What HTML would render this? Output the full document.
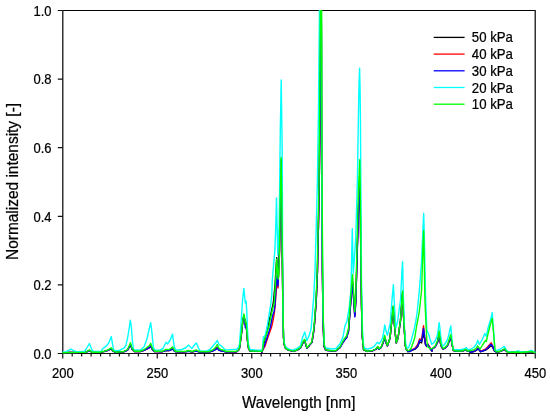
<!DOCTYPE html>
<html><head><meta charset="utf-8"><style>html,body{margin:0;padding:0;background:#fff;width:550px;height:416px;overflow:hidden}svg{display:block}</style></head>
<body><svg width="550" height="416" viewBox="0 0 550 416">
<rect width="550" height="416" fill="#fff"/>
<rect x="62" y="10" width="474" height="1" fill="#000"/><rect x="62" y="353" width="474" height="1" fill="#111"/><rect x="62" y="10" width="1.5" height="344" fill="#333"/><rect x="534.5" y="10" width="1.5" height="344" fill="#333"/>
<path d="M62.75 353.5v5 M72.20 353.5v3 M81.65 353.5v3 M91.10 353.5v3 M100.55 353.5v3 M110.00 353.5v3 M119.45 353.5v3 M128.90 353.5v3 M138.35 353.5v3 M147.80 353.5v3 M157.25 353.5v5 M166.70 353.5v3 M176.15 353.5v3 M185.60 353.5v3 M195.05 353.5v3 M204.50 353.5v3 M213.95 353.5v3 M223.40 353.5v3 M232.85 353.5v3 M242.30 353.5v3 M251.75 353.5v5 M261.20 353.5v3 M270.65 353.5v3 M280.10 353.5v3 M289.55 353.5v3 M299.00 353.5v3 M308.45 353.5v3 M317.90 353.5v3 M327.35 353.5v3 M336.80 353.5v3 M346.25 353.5v5 M355.70 353.5v3 M365.15 353.5v3 M374.60 353.5v3 M384.05 353.5v3 M393.50 353.5v3 M402.95 353.5v3 M412.40 353.5v3 M421.85 353.5v3 M431.30 353.5v3 M440.75 353.5v5 M450.20 353.5v3 M459.65 353.5v3 M469.10 353.5v3 M478.55 353.5v3 M488.00 353.5v3 M497.45 353.5v3 M506.90 353.5v3 M516.35 353.5v3 M525.80 353.5v3 M535.25 353.5v5 M57.75 353.50h5.0 M57.75 284.90h5.0 M57.75 216.30h5.0 M57.75 147.70h5.0 M57.75 79.10h5.0 M57.75 10.50h5.0" stroke="#111" stroke-width="1.2" fill="none"/>
<g font-family="'Liberation Sans', Arial, sans-serif" font-size="13" fill="#000" stroke="#000" stroke-width="0.22"><text transform="translate(51.6,358.70) scale(1,1.09)" text-anchor="end">0.0</text><text transform="translate(51.6,290.10) scale(1,1.09)" text-anchor="end">0.2</text><text transform="translate(51.6,221.50) scale(1,1.09)" text-anchor="end">0.4</text><text transform="translate(51.6,152.90) scale(1,1.09)" text-anchor="end">0.6</text><text transform="translate(51.6,84.30) scale(1,1.09)" text-anchor="end">0.8</text><text transform="translate(51.6,15.70) scale(1,1.09)" text-anchor="end">1.0</text><text transform="translate(62.95,377.9) scale(1,1.09)" text-anchor="middle">200</text><text transform="translate(157.45,377.9) scale(1,1.09)" text-anchor="middle">250</text><text transform="translate(251.95,377.9) scale(1,1.09)" text-anchor="middle">300</text><text transform="translate(346.45,377.9) scale(1,1.09)" text-anchor="middle">350</text><text transform="translate(440.95,377.9) scale(1,1.09)" text-anchor="middle">400</text><text transform="translate(535.45,377.9) scale(1,1.09)" text-anchor="middle">450</text><line x1="433.7" x2="464.6" y1="37.40" y2="37.40" stroke="#000000" stroke-width="1.3"/><text font-size="13.2" transform="translate(471.8,42.40) scale(1,1.04)">50 kPa</text><line x1="433.7" x2="464.6" y1="54.10" y2="54.10" stroke="#ff0000" stroke-width="1.3"/><text font-size="13.2" transform="translate(471.8,59.10) scale(1,1.04)">40 kPa</text><line x1="433.7" x2="464.6" y1="70.80" y2="70.80" stroke="#0000ff" stroke-width="1.3"/><text font-size="13.2" transform="translate(471.8,75.80) scale(1,1.04)">30 kPa</text><line x1="433.7" x2="464.6" y1="87.50" y2="87.50" stroke="#00ffff" stroke-width="1.3"/><text font-size="13.2" transform="translate(471.8,92.50) scale(1,1.04)">20 kPa</text><line x1="433.7" x2="464.6" y1="104.20" y2="104.20" stroke="#00ff00" stroke-width="1.3"/><text font-size="13.2" transform="translate(471.8,109.20) scale(1,1.04)">10 kPa</text></g>
<text transform="translate(298.7,407.7) scale(1,1.08)" text-anchor="middle" font-family="'Liberation Sans', Arial, sans-serif" font-size="15.2" fill="#000" stroke="#000" stroke-width="0.22">Wavelength [nm]</text>
<text transform="translate(18.1,181.45) rotate(-90) scale(1,1.1)" text-anchor="middle" font-family="'Liberation Sans', Arial, sans-serif" font-size="15.45" fill="#000" stroke="#000" stroke-width="0.22">Normalized intensity [-]</text>
<defs><clipPath id="pc"><rect x="62" y="10" width="474" height="344"/></clipPath></defs><g clip-path="url(#pc)"><polyline fill="none" stroke="#000000" stroke-width="1.4" stroke-linejoin="round" points="62.5,352.74 63.5,352.71 64.5,352.68 65.5,352.64 66.5,352.61 67.5,352.58 68.5,352.55 69.5,352.52 70.0,352.5 70.5,352.5 71.5,352.49 72.5,352.48 73.5,352.47 74.5,352.46 75.5,352.46 76.5,352.45 77.5,352.44 78.5,352.43 79.5,352.42 80.0,352.42 80.5,352.41 81.5,352.38 82.5,352.35 83.5,352.33 84.5,352.3 85.5,352.27 86.0,352.26 86.5,351.99 87.5,351.46 88.5,350.93 89.5,350.4 90.5,351.14 91.5,351.88 92.0,352.26 92.5,352.26 93.5,352.27 94.5,352.28 95.5,352.29 96.5,352.3 97.5,352.31 98.5,352.32 99.5,352.33 100.0,352.34 100.5,352.24 101.5,352.03 102.5,351.83 103.5,351.63 104.0,351.52 104.5,351.37 105.5,351.07 106.5,350.76 107.5,350.45 108.0,350.3 108.5,350.05 109.5,349.56 110.5,349.06 111.3,348.67 111.5,348.95 112.5,350.39 113.0,351.11 113.5,351.3 114.5,351.68 115.5,352.06 116.0,352.25 116.5,352.22 117.5,352.15 118.5,352.08 119.5,352.0 120.5,351.93 121.5,351.86 122.5,351.79 123.5,351.72 124.0,351.68 124.5,351.45 125.5,350.98 126.5,350.52 127.5,350.07 128.5,348.27 129.5,346.48 130.5,344.6 131.5,347.5 132.0,348.94 132.5,349.45 133.5,350.47 134.5,351.48 135.5,351.5 136.5,351.52 137.5,351.54 138.5,351.56 139.5,351.58 140.0,351.59 140.5,351.42 141.5,351.08 142.5,350.75 143.5,350.42 144.0,350.26 144.5,350.01 145.5,349.53 146.5,349.04 147.0,348.8 147.5,348.52 148.5,347.95 149.5,347.38 150.5,346.06 150.7,345.8 151.5,347.5 152.5,349.61 153.5,350.59 154.5,351.57 155.5,351.58 156.5,351.6 157.5,351.61 158.5,351.62 159.5,351.63 160.5,351.65 161.5,351.66 162.0,351.66 162.5,351.51 163.5,351.2 164.5,350.89 165.5,350.58 166.0,350.42 166.5,350.44 167.5,350.46 168.5,350.49 169.0,350.5 169.5,350.28 170.5,349.84 171.0,349.62 171.5,349.32 172.5,348.73 172.6,348.67 173.5,349.84 174.5,351.14 175.5,351.48 176.5,351.82 177.5,351.8 178.5,351.78 179.5,351.76 180.5,351.74 181.5,351.72 182.5,351.7 183.5,351.68 184.5,351.66 185.5,351.64 186.0,351.63 186.5,351.55 187.5,351.38 188.5,351.21 188.7,351.18 189.5,351.34 190.5,351.54 191.5,351.74 192.0,351.84 192.5,351.73 193.5,351.51 194.5,351.29 195.5,351.07 196.4,350.87 196.5,350.91 197.5,351.29 198.5,351.66 199.0,351.85 199.5,351.86 200.5,351.89 201.5,351.91 202.5,351.93 203.5,351.95 204.5,351.98 205.5,352.0 206.5,352.02 207.5,352.04 208.0,352.05 208.5,351.93 209.5,351.69 210.5,351.45 211.5,351.21 212.5,350.97 212.7,350.92 213.5,350.48 214.5,349.92 215.5,349.37 216.5,348.33 217.3,347.5 217.5,347.8 218.5,349.27 219.0,350.01 219.5,350.17 220.5,350.48 221.0,350.64 221.5,350.75 222.5,350.96 223.5,351.16 224.0,351.27 224.5,351.42 225.5,351.73 226.0,351.89 226.5,351.88 227.5,351.87 228.5,351.86 229.5,351.85 230.5,351.84 231.5,351.83 232.5,351.82 233.5,351.81 234.5,351.8 235.5,351.79 236.5,351.67 236.7,351.63 237.5,350.95 238.5,350.1 239.5,348.18 240.5,340.84 241.2,335.7 241.5,333.0 242.5,324.0 242.8,321.3 243.5,317.63 243.9,315.54 244.5,318.42 244.7,319.38 245.3,324.18 245.5,323.7 245.9,322.74 246.5,328.09 246.6,328.98 247.5,340.5 248.5,348.18 249.5,350.1 250.0,351.06 250.5,351.08 251.5,351.11 252.5,351.14 253.5,351.17 254.5,351.19 255.5,351.22 256.5,351.25 257.5,351.28 258.5,351.31 259.5,351.33 260.5,351.36 261.5,351.39 261.8,352.3 262.4,350 265,339 267.7,327 269.1,321 271.5,311 273.3,303 275,285 276.7,257.6 277.5,270 278.2,282 279.5,240 280.3,195 281.1,160 281.5,184.14 281.8,199.8 282.4,262.9 282.5,272.6 282.8,301.68 283.5,337.51 284.2,344.29 284.5,345.16 285.5,348.07 285.6,348.36 286.5,348.94 287.5,349.59 288.0,349.91 288.5,350.03 289.5,350.27 290.4,350.49 290.5,350.51 291.5,350.73 292.5,350.95 293.5,351.17 294.5,350.87 295.5,350.58 296.5,350.28 297.0,350.13 297.5,349.82 298.5,349.18 299.5,348.55 300.4,347.98 300.5,347.77 301.5,345.68 302.5,343.59 303.5,341.53 303.9,340.71 304.5,340.47 304.8,340.36 305.5,343.31 305.8,344.57 306.5,346.78 306.9,348.03 307.5,347.38 308.5,346.29 309.1,345.64 309.35,345.4 311.95,342.4 313.05,335.3 314.05,329.0 314.95,318.3 316.25,300.3 317.45,271.3 318.45,225.3 319.25,182.3 320.05,100.3 320.45,40.3 320.5,10.7 321.3,10.7 321.4,40.2 321.5,100.2 321.7,182.2 322.1,230.2 322.4,271.2 323.0,320.2 324.0,346.2 325.7,350.2 326.0,350.2 326.5,350.26 327.5,350.39 328.5,350.51 329.5,350.63 330.5,350.75 331.5,350.88 332.0,350.94 332.5,350.91 333.5,350.84 334.5,350.77 335.5,350.7 336.0,350.67 336.5,350.27 337.5,349.47 338.5,348.66 339.5,347.87 340.0,347.47 340.5,346.55 341.5,344.72 342.5,342.9 343.0,341.99 343.5,341.28 344.5,339.87 345.0,339.16 345.5,338.58 346.5,337.43 347.5,334.11 348.5,330.78 349.5,317.47 350.0,310.82 350.5,304.2 351.5,290.97 352.5,282.22 352.6,281.34 353.5,295.44 353.8,300.13 354.5,310.85 354.8,315.45 355.5,304.75 355.8,300.17 356.5,275.16 357.2,250.17 357.5,239.69 358.5,204.76 359.5,181.87 359.7,177.29 360.4,213.95 360.5,223.04 361.0,268.48 361.5,304.82 362.3,336.61 362.5,338.64 363.5,348.77 363.6,349.78 364.5,350.19 365.5,350.64 366.5,351.09 367.2,351.41 367.5,351.37 368.5,351.23 369.5,351.08 370.5,350.94 371.5,350.8 372.5,350.66 372.9,350.6 373.5,350.31 374.5,349.82 375.5,349.33 376.4,348.89 376.5,348.73 377.5,347.21 377.7,346.9 378.5,348.35 379.0,349.25 379.5,348.8 380.5,347.9 381.2,347.27 381.5,346.52 382.5,344.02 383.4,341.78 383.5,341.42 384.5,337.82 384.7,337.1 385.5,340.28 386.2,342.99 386.5,343.69 387.4,345.84 387.5,345.56 388.5,342.61 389.5,339.68 390.0,338.29 390.5,333.39 391.5,323.59 392.0,318.69 392.5,313.79 393.2,306.93 393.5,311.23 394.5,325.55 395.5,335.75 396.2,342.9 396.5,342.13 397.5,339.57 398.0,338.29 398.5,334.76 399.5,327.71 400.5,320.65 401.5,306.28 402.0,299.09 402.5,293.29 402.6,292.13 403.5,315.75 404.5,332.36 405.3,345.64 405.5,346.34 406.5,349.85 407.5,350.57 407.6,351.6 410,351.5 412.4,350 415.3,349 417.8,346.5 419.6,342 421.5,343 423.5,333 424.6,339 425.4,344.5 426.8,346.5 428,345 429.5,348 432.1,351.2 432.2,348.98 432.5,348.76 433.5,348.03 434.5,347.31 435.2,346.8 435.5,346.18 436.5,344.13 437.5,342.08 437.8,341.47 438.5,337.28 439.1,333.7 439.5,336.56 440.4,342.98 440.5,343.33 441.5,346.83 442.5,348.29 443.0,349.01 443.5,348.8 444.5,348.37 445.0,348.15 445.5,347.7 446.5,346.8 447.3,346.08 447.5,345.56 448.5,342.96 449.0,341.67 449.5,340.21 450.3,337.87 450.5,337.56 450.8,337.1 451.5,341.3 452.0,344.29 452.5,346.55 453.4,350.6 453.5,350.62 454.5,350.86 455.5,351.09 456.0,351.21 456.5,351.21 457.5,351.21 458.5,351.21 459.5,351.21 460.5,351.21 461.5,351.21 462.0,351.22 462.5,351.02 463.5,350.63 464.5,350.24 465.5,349.85 466.5,350.54 467.5,351.22 468.5,351.09 469.5,350.95 470,352.2 473.8,351.6 476.5,350.3 478.1,348.6 480.5,351.8 482.5,351.2 485.5,350.1 488,348.5 491.1,345.5 492.5,347 494.5,351.2 497,352.3 497.5,351.98 498.5,351.78 499.5,351.57 500.5,351.36 501.0,351.26 501.5,350.99 502.5,350.46 503.5,349.93 504.4,349.45 504.5,349.54 505.5,350.4 506.5,351.27 507.5,352.03 508.0,352.42 508.5,352.4 509.5,352.37 510.5,352.34 511.5,352.3 512.5,352.27 513.5,352.24 514.5,352.21 515.5,352.17 516.5,352.14 517.5,352.11 518.0,352.09 518.5,352.16 519.5,352.3 520.5,352.43 521.0,352.5 521.5,352.46 522.5,352.39 523.5,352.31 524.5,352.23 525.5,352.16 526.5,352.08 527.5,352.01 528.5,351.93 529.5,351.86 530.5,351.78 531.5,351.7 531.6,351.7 532.5,351.94 533.5,352.21 534.5,352.47 535.5,352.74"/><polyline fill="none" stroke="#ff0000" stroke-width="1.4" stroke-linejoin="round" points="62.5,352.73 63.5,352.7 64.5,352.67 65.5,352.64 66.5,352.61 67.5,352.58 68.5,352.55 69.5,352.52 70.0,352.5 70.5,352.5 71.5,352.49 72.5,352.48 73.5,352.47 74.5,352.46 75.5,352.46 76.5,352.45 77.5,352.44 78.5,352.43 79.5,352.43 80.0,352.42 80.5,352.41 81.5,352.38 82.5,352.36 83.5,352.33 84.5,352.3 85.5,352.28 86.0,352.26 86.5,352.0 87.5,351.49 88.5,350.97 89.5,350.45 90.5,351.17 91.5,351.9 92.0,352.26 92.5,352.27 93.5,352.28 94.5,352.29 95.5,352.3 96.5,352.31 97.5,352.32 98.5,352.33 99.5,352.34 100.0,352.34 100.5,352.24 101.5,352.04 102.5,351.85 103.5,351.65 104.0,351.55 104.5,351.4 105.5,351.1 106.5,350.8 107.5,350.5 108.0,350.35 108.5,350.11 109.5,349.63 110.5,349.15 111.3,348.76 111.5,349.04 112.5,350.44 113.0,351.15 113.5,351.33 114.5,351.7 115.5,352.07 116.0,352.26 116.5,352.23 117.5,352.16 118.5,352.09 119.5,352.02 120.5,351.95 121.5,351.88 122.5,351.81 123.5,351.74 124.0,351.7 124.5,351.47 125.5,351.02 126.5,350.57 127.5,350.13 128.5,348.37 129.5,346.64 130.5,344.8 131.5,347.62 132.0,349.03 132.5,349.53 133.5,350.52 134.5,351.51 135.5,351.53 136.5,351.55 137.5,351.57 138.5,351.58 139.5,351.6 140.0,351.61 140.5,351.45 141.5,351.12 142.5,350.8 143.5,350.48 144.0,350.32 144.5,350.08 145.5,349.61 146.5,349.14 147.0,348.9 147.5,348.63 148.5,348.07 149.5,347.52 150.5,346.24 150.7,345.99 151.5,347.64 152.5,349.69 153.5,350.65 154.5,351.59 155.5,351.61 156.5,351.62 157.5,351.63 158.5,351.65 159.5,351.66 160.5,351.67 161.5,351.68 162.0,351.69 162.5,351.54 163.5,351.23 164.5,350.93 165.5,350.63 166.0,350.48 166.5,350.5 167.5,350.52 168.5,350.55 169.0,350.56 169.5,350.35 170.5,349.92 171.0,349.7 171.5,349.42 172.5,348.84 172.6,348.78 173.5,349.92 174.5,351.18 175.5,351.51 176.5,351.84 177.5,351.82 178.5,351.8 179.5,351.78 180.5,351.76 181.5,351.75 182.5,351.73 183.5,351.71 184.5,351.69 185.5,351.67 186.0,351.66 186.5,351.58 187.5,351.41 188.5,351.25 188.7,351.22 189.5,351.37 190.5,351.57 191.5,351.76 192.0,351.86 192.5,351.75 193.5,351.54 194.5,351.32 195.5,351.11 196.4,350.92 196.5,350.96 197.5,351.32 198.5,351.69 199.0,351.87 199.5,351.88 200.5,351.9 201.5,351.93 202.5,351.95 203.5,351.97 204.5,351.99 205.5,352.01 206.5,352.04 207.5,352.06 208.0,352.07 208.5,351.95 209.5,351.72 210.5,351.48 211.5,351.25 212.5,351.02 212.7,350.97 213.5,350.54 214.5,350.0 215.5,349.47 216.5,348.46 217.3,347.66 217.5,347.95 218.5,349.38 219.0,350.09 219.5,350.24 220.5,350.55 221.0,350.7 221.5,350.8 222.5,351.01 223.5,351.21 224.0,351.31 224.5,351.46 225.5,351.76 226.0,351.91 226.5,351.9 227.5,351.89 228.5,351.88 229.5,351.87 230.5,351.86 231.5,351.85 232.5,351.84 233.5,351.83 234.5,351.83 235.5,351.82 236.5,351.7 236.7,351.65 237.5,350.98 238.5,350.12 239.5,348.22 240.5,340.96 241.2,335.88 241.5,333.2 242.5,324.3 242.8,321.62 243.5,318.0 243.9,315.92 244.5,318.78 244.7,319.73 245.3,324.48 245.5,324.0 245.9,323.05 246.5,328.34 246.6,329.22 247.5,340.62 248.5,348.22 249.5,350.12 250.0,351.08 250.5,351.09 251.5,351.12 252.5,351.15 253.5,351.18 254.5,351.2 255.5,351.23 256.5,351.26 257.5,351.28 258.5,351.31 259.5,351.34 260.5,351.36 261.5,351.39 261.8,352.3 262.4,351 265,346.2 268,337 271.6,327 273.5,318 274.2,314 275.2,305 276.6,285 277.3,280 278,288 279.7,250 280.4,200 281.1,165 281.5,185.44 281.8,201.0 282.4,263.63 282.5,273.25 282.8,302.1 283.5,337.64 284.2,344.36 284.5,345.23 285.5,348.11 285.6,348.4 286.5,348.97 287.5,349.62 288.0,349.94 288.5,350.06 289.5,350.3 290.4,350.51 290.5,350.54 291.5,350.75 292.5,350.97 293.5,351.18 294.5,350.89 295.5,350.6 296.5,350.31 297.0,350.17 297.5,349.86 298.5,349.23 299.5,348.61 300.4,348.05 300.5,347.85 301.5,345.79 302.5,343.74 303.5,341.72 303.9,340.92 304.5,340.68 304.8,340.57 305.5,343.47 305.8,344.72 306.5,346.88 306.9,348.11 307.5,347.47 308.5,346.41 309.1,345.77 309.35,345.4 311.95,342.4 313.05,335.3 314.05,329.0 314.95,318.3 316.25,300.3 317.45,271.3 318.45,225.3 319.25,182.3 320.05,100.3 320.45,40.3 320.5,10.7 321.3,10.7 321.4,40.2 321.5,100.2 321.7,182.2 322.1,230.2 322.4,271.2 323.0,320.2 324.0,346.2 325.7,350.2 326.0,350.25 326.5,350.31 327.5,350.43 328.5,350.55 329.5,350.67 330.5,350.79 331.5,350.91 332.0,350.97 332.5,350.94 333.5,350.87 334.5,350.81 335.5,350.74 336.0,350.71 336.5,350.31 337.5,349.53 338.5,348.75 339.5,347.97 340.0,347.58 340.5,346.68 341.5,344.89 342.5,343.11 343.0,342.22 343.5,341.52 344.5,340.14 345.0,339.45 345.5,338.89 346.5,337.76 347.5,334.51 348.5,331.26 349.5,318.24 350.0,311.74 350.5,305.26 351.5,292.32 352.5,283.76 352.6,282.9 353.5,296.69 353.8,301.28 354.5,311.77 354.8,316.26 355.5,305.8 355.8,301.32 356.5,276.86 357.2,252.42 357.5,242.17 358.5,208.01 359.5,185.62 359.7,181.15 360.4,217.0 360.5,225.89 361.0,270.33 361.5,305.87 362.3,336.96 362.5,338.94 363.5,348.85 363.6,349.84 364.5,350.24 365.5,350.68 366.5,351.13 367.2,351.44 367.5,351.39 368.5,351.26 369.5,351.12 370.5,350.98 371.5,350.84 372.5,350.7 372.9,350.64 373.5,350.36 374.5,349.88 375.5,349.4 376.4,348.97 376.5,348.82 377.5,347.33 377.7,347.03 378.5,348.44 379.0,349.32 379.5,348.88 380.5,348.0 381.2,347.39 381.5,346.65 382.5,344.21 383.4,342.02 383.5,341.67 384.5,338.15 384.7,337.44 385.5,340.55 386.2,343.19 386.5,343.85 387.4,345.92 387.5,345.63 388.5,342.64 389.5,339.68 390.0,338.29 390.5,333.39 391.5,323.59 392.0,318.69 392.5,313.79 393.2,306.93 393.5,311.23 394.5,325.55 395.5,335.75 396.2,342.9 396.5,342.13 397.5,339.57 398.0,338.29 398.5,334.76 399.5,327.71 400.5,320.65 401.5,306.28 402.0,299.09 402.5,293.29 402.6,292.13 403.5,315.75 404.5,332.36 405.3,345.64 405.5,346.34 406.5,349.85 407.5,350.57 407.6,351.2 410,351 412.4,349.5 415.3,348 417.8,344.5 419.6,339 421.7,339.5 423.5,325.6 424.6,336 425.4,343.5 426.8,345.5 428,344 429.5,347 432.1,350.8 432.2,348.98 432.5,348.76 433.5,348.03 434.5,347.31 435.2,346.8 435.5,346.18 436.5,344.13 437.5,342.08 437.8,341.47 438.5,337.28 439.1,333.7 439.5,336.56 440.4,342.98 440.5,343.33 441.5,346.83 442.5,348.29 443.0,349.01 443.5,348.8 444.5,348.37 445.0,348.15 445.5,347.7 446.5,346.8 447.3,346.08 447.5,345.56 448.5,342.96 449.0,341.67 449.5,340.21 450.3,337.87 450.5,337.56 450.8,337.1 451.5,341.3 452.0,344.29 452.5,346.55 453.4,350.6 453.5,350.62 454.5,350.86 455.5,351.09 456.0,351.21 456.5,351.21 457.5,351.21 458.5,351.21 459.5,351.21 460.5,351.21 461.5,351.21 462.0,351.22 462.5,351.02 463.5,350.63 464.5,350.24 465.5,349.85 466.5,350.54 467.5,351.22 468.5,351.09 469.5,350.95 470,352 473.8,351.3 476.5,349.8 478.1,348 480.5,351.2 482.5,350.5 485.5,349.2 488,346.5 491.3,342.8 492.5,345.5 494.5,350.8 497,352.2 497.5,351.98 498.5,351.78 499.5,351.57 500.5,351.36 501.0,351.26 501.5,350.99 502.5,350.46 503.5,349.93 504.4,349.45 504.5,349.54 505.5,350.4 506.5,351.27 507.5,352.03 508.0,352.42 508.5,352.4 509.5,352.37 510.5,352.34 511.5,352.3 512.5,352.27 513.5,352.24 514.5,352.21 515.5,352.17 516.5,352.14 517.5,352.11 518.0,352.09 518.5,352.16 519.5,352.3 520.5,352.43 521.0,352.5 521.5,352.46 522.5,352.39 523.5,352.31 524.5,352.23 525.5,352.16 526.5,352.08 527.5,352.01 528.5,351.93 529.5,351.86 530.5,351.78 531.5,351.7 531.6,351.7 532.5,351.94 533.5,352.21 534.5,352.47 535.5,352.74"/><polyline fill="none" stroke="#0000ff" stroke-width="1.4" stroke-linejoin="round" points="62.5,352.73 63.5,352.7 64.5,352.67 65.5,352.64 66.5,352.61 67.5,352.58 68.5,352.55 69.5,352.52 70.0,352.5 70.5,352.5 71.5,352.49 72.5,352.48 73.5,352.47 74.5,352.47 75.5,352.46 76.5,352.45 77.5,352.44 78.5,352.43 79.5,352.43 80.0,352.42 80.5,352.41 81.5,352.39 82.5,352.36 83.5,352.33 84.5,352.31 85.5,352.28 86.0,352.27 86.5,352.02 87.5,351.51 88.5,351.01 89.5,350.5 90.5,351.21 91.5,351.92 92.0,352.27 92.5,352.27 93.5,352.28 94.5,352.29 95.5,352.3 96.5,352.31 97.5,352.32 98.5,352.33 99.5,352.34 100.0,352.35 100.5,352.25 101.5,352.06 102.5,351.86 103.5,351.67 104.0,351.57 104.5,351.43 105.5,351.14 106.5,350.85 107.5,350.55 108.0,350.41 108.5,350.17 109.5,349.7 110.5,349.23 111.3,348.85 111.5,349.13 112.5,350.5 113.0,351.18 113.5,351.36 114.5,351.72 115.5,352.09 116.0,352.27 116.5,352.23 117.5,352.16 118.5,352.1 119.5,352.03 120.5,351.96 121.5,351.89 122.5,351.82 123.5,351.75 124.0,351.72 124.5,351.5 125.5,351.06 126.5,350.62 127.5,350.19 128.5,348.48 129.5,346.78 130.5,345.0 131.5,347.75 132.0,349.12 132.5,349.6 133.5,350.58 134.5,351.54 135.5,351.55 136.5,351.57 137.5,351.59 138.5,351.61 139.5,351.63 140.0,351.64 140.5,351.48 141.5,351.16 142.5,350.84 143.5,350.53 144.0,350.38 144.5,350.15 145.5,349.69 146.5,349.23 147.0,349.0 147.5,348.73 148.5,348.19 149.5,347.66 150.5,346.42 150.7,346.17 151.5,347.78 152.5,349.77 153.5,350.7 154.5,351.62 155.5,351.63 156.5,351.65 157.5,351.66 158.5,351.67 159.5,351.68 160.5,351.7 161.5,351.71 162.0,351.71 162.5,351.57 163.5,351.28 164.5,350.99 165.5,350.7 166.0,350.55 166.5,350.57 167.5,350.6 168.5,350.62 169.0,350.64 169.5,350.43 170.5,350.02 171.0,349.82 171.5,349.54 172.5,348.99 172.6,348.94 173.5,350.03 174.5,351.24 175.5,351.55 176.5,351.87 177.5,351.85 178.5,351.84 179.5,351.82 180.5,351.8 181.5,351.78 182.5,351.77 183.5,351.75 184.5,351.73 185.5,351.72 186.0,351.71 186.5,351.63 187.5,351.47 188.5,351.32 188.7,351.29 189.5,351.44 190.5,351.63 191.5,351.81 192.0,351.9 192.5,351.8 193.5,351.6 194.5,351.4 195.5,351.2 196.4,351.03 196.5,351.06 197.5,351.4 198.5,351.75 199.0,351.92 199.5,351.93 200.5,351.95 201.5,351.97 202.5,351.99 203.5,352.01 204.5,352.03 205.5,352.05 206.5,352.07 207.5,352.09 208.0,352.1 208.5,352.0 209.5,351.78 210.5,351.57 211.5,351.36 212.5,351.15 212.7,351.1 213.5,350.71 214.5,350.22 215.5,349.74 216.5,348.83 217.3,348.1 217.5,348.36 218.5,349.65 219.0,350.3 219.5,350.44 220.5,350.71 221.0,350.85 221.5,350.94 222.5,351.12 223.5,351.31 224.0,351.4 224.5,351.54 225.5,351.81 226.0,351.95 226.5,351.94 227.5,351.93 228.5,351.92 229.5,351.91 230.5,351.9 231.5,351.89 232.5,351.88 233.5,351.87 234.5,351.86 235.5,351.85 236.5,351.73 236.7,351.68 237.5,351.0 238.5,350.15 239.5,348.25 240.5,340.98 241.2,335.86 241.5,333.17 242.5,324.14 242.8,321.42 243.5,317.68 243.9,315.54 244.5,320.25 244.7,321.75 245.3,327.72 245.5,326.9 245.9,325.22 246.5,329.61 246.6,330.45 247.5,341.25 248.5,348.45 249.5,350.25 250.0,351.15 250.5,351.17 251.5,351.2 252.5,351.22 253.5,351.24 254.5,351.25 255.5,351.27 256.5,351.29 257.5,351.31 258.5,351.33 259.5,351.35 260.5,351.37 261.5,351.4 261.8,352.3 262.4,350.5 265,344 267.5,336 270.4,327 272.5,316 274.2,311 275,305 276.5,280 277.3,275 278,286 279.5,250 280.3,200 281.1,165 281.5,186.74 281.8,202.2 282.4,264.35 282.5,273.9 282.8,302.52 283.5,337.77 284.2,344.44 284.5,345.29 285.5,348.15 285.6,348.43 286.5,349.01 287.5,349.65 288.0,349.96 288.5,350.08 289.5,350.32 290.4,350.54 290.5,350.56 291.5,350.77 292.5,350.99 293.5,351.2 294.5,350.91 295.5,350.63 296.5,350.34 297.0,350.2 297.5,349.89 298.5,349.28 299.5,348.67 300.4,348.13 300.5,347.92 301.5,345.9 302.5,343.89 303.5,341.91 303.9,341.12 304.5,340.9 304.8,340.78 305.5,343.64 305.8,344.86 306.5,346.99 306.9,348.2 307.5,347.57 308.5,346.53 309.1,345.9 309.35,345.4 311.95,342.4 313.05,335.3 314.05,329.0 314.95,318.3 316.25,300.3 317.45,271.3 318.45,225.3 319.25,182.3 320.05,100.3 320.45,40.3 320.5,10.7 321.3,10.7 321.4,40.2 321.5,100.2 321.7,182.2 322.1,230.2 322.4,271.2 323.0,320.2 324.0,346.2 325.7,350.2 326.0,350.3 326.5,350.36 327.5,350.48 328.5,350.59 329.5,350.71 330.5,350.83 331.5,350.95 332.0,351.01 332.5,350.97 333.5,350.91 334.5,350.84 335.5,350.78 336.0,350.74 336.5,350.36 337.5,349.59 338.5,348.82 339.5,348.06 340.0,347.67 340.5,346.8 341.5,345.04 342.5,343.29 343.0,342.41 343.5,341.73 344.5,340.38 345.0,339.7 345.5,339.14 346.5,338.04 347.5,334.84 348.5,331.65 349.5,318.86 350.0,312.47 350.5,306.11 351.5,293.39 352.5,284.96 352.6,284.12 353.5,297.66 353.8,302.17 354.5,312.47 354.8,316.88 355.5,306.59 355.8,302.19 356.5,278.13 357.2,254.08 357.5,244.0 358.5,210.38 359.5,188.33 359.7,183.92 360.4,219.17 360.5,227.92 361.0,271.64 361.5,306.61 362.3,337.21 362.5,339.16 363.5,348.9 363.6,349.88 364.5,350.27 365.5,350.71 366.5,351.15 367.2,351.45 367.5,351.41 368.5,351.27 369.5,351.14 370.5,351.0 371.5,350.86 372.5,350.72 372.9,350.67 373.5,350.38 374.5,349.91 375.5,349.44 376.4,349.01 376.5,348.87 377.5,347.39 377.7,347.1 378.5,348.49 379.0,349.36 379.5,348.93 380.5,348.06 381.2,347.45 381.5,346.73 382.5,344.31 383.4,342.14 383.5,341.79 384.5,338.31 384.7,337.62 385.5,340.68 386.2,343.29 386.5,343.93 387.4,345.96 387.5,345.67 388.5,342.66 389.5,339.68 390.0,338.29 390.5,333.39 391.5,323.59 392.0,318.69 392.5,313.79 393.2,306.93 393.5,311.23 394.5,325.55 395.5,335.75 396.2,342.9 396.5,342.13 397.5,339.57 398.0,338.29 398.5,334.76 399.5,327.71 400.5,320.65 401.5,306.28 402.0,299.09 402.5,293.29 402.6,292.13 403.5,315.75 404.5,332.36 405.3,345.64 405.5,346.34 406.5,349.85 407.5,350.57 407.6,351.5 410,351.4 412.4,349.8 415.3,348.7 417.8,345.9 419.6,340.5 421.7,341 423.5,328.5 424.6,337 425.4,344 426.8,346 428,344.5 429.5,347.5 432.1,351 432.2,348.98 432.5,348.76 433.5,348.03 434.5,347.31 435.2,346.8 435.5,346.18 436.5,344.13 437.5,342.08 437.8,341.47 438.5,337.28 439.1,333.7 439.5,336.56 440.4,342.98 440.5,343.33 441.5,346.83 442.5,348.29 443.0,349.01 443.5,348.8 444.5,348.37 445.0,348.15 445.5,347.7 446.5,346.8 447.3,346.08 447.5,345.56 448.5,342.96 449.0,341.67 449.5,340.21 450.3,337.87 450.5,337.56 450.8,337.1 451.5,341.3 452.0,344.29 452.5,346.55 453.4,350.6 453.5,350.62 454.5,350.86 455.5,351.09 456.0,351.21 456.5,351.21 457.5,351.21 458.5,351.21 459.5,351.21 460.5,351.21 461.5,351.21 462.0,351.22 462.5,351.02 463.5,350.63 464.5,350.24 465.5,349.85 466.5,350.54 467.5,351.22 468.5,351.09 469.5,350.95 470,352.2 473.8,351.5 476.5,350 478.1,348.3 480.5,351.6 482.5,351 485.5,349.8 488,347.8 490.9,344.2 492.5,346 494.5,351 497,352.3 497.5,351.98 498.5,351.78 499.5,351.57 500.5,351.36 501.0,351.26 501.5,350.99 502.5,350.46 503.5,349.93 504.4,349.45 504.5,349.54 505.5,350.4 506.5,351.27 507.5,352.03 508.0,352.42 508.5,352.4 509.5,352.37 510.5,352.34 511.5,352.3 512.5,352.27 513.5,352.24 514.5,352.21 515.5,352.17 516.5,352.14 517.5,352.11 518.0,352.09 518.5,352.16 519.5,352.3 520.5,352.43 521.0,352.5 521.5,352.46 522.5,352.39 523.5,352.31 524.5,352.23 525.5,352.16 526.5,352.08 527.5,352.01 528.5,351.93 529.5,351.86 530.5,351.78 531.5,351.7 531.6,351.7 532.5,351.94 533.5,352.21 534.5,352.47 535.5,352.74"/><polyline fill="none" stroke="#00ffff" stroke-width="1.4" stroke-linejoin="round" points="62.5,351.9 66,351.6 69,350.2 71,349.2 73.5,350.6 76,351.5 80,351.6 84.5,351.3 86.5,348.5 89.4,343.5 91,347.5 92.5,351 95,351.5 101.4,351.2 102.5,348.8 104.5,347.5 106.9,345.4 109,342.5 111.3,336.6 113.4,349.2 115,350.8 118,350.5 120,350.2 124.5,347.7 126,345 127.8,337 129.5,326 130.3,320.2 131.2,326 132.2,338 133.3,348.5 134.5,350.2 137,350 141,349.8 144.2,346.6 146.9,339 148.5,332 150.7,322.6 151.8,331.4 153.4,347.7 155,350.2 160,350 163,348.5 166,342.3 167.6,343.9 170.5,339.5 172.5,334.1 174.2,346.6 175.8,350 178,350 182,349.5 186,347.5 188.7,345.1 191.8,348.6 194.5,345 196.4,342.9 198.5,348 200.2,351.3 207,351 210,349.5 212.7,346.2 215.5,343 217.3,340.5 219,344.5 220.9,345.6 223,347.8 225.8,350 230,349.6 236.7,349.2 238.5,347.5 239.5,344 240.9,325.3 242.6,299.3 243.9,288.4 244.6,296 245.3,303 246.1,301 246.8,312 247.5,330 248.3,344 250,349.5 255,350 261.8,350.2 262.4,349.5 263.3,337 265,335.8 267.1,327 269,315 270.9,303 271.8,295 272.3,280 273,272 274.9,250 275.8,225 276.5,198 277.2,230 277.8,255 279.2,225 280.3,130 281.2,80 282.2,150 282.8,300 283.5,335 284.2,342.5 285.5,346.5 287.5,348.5 290.4,349.6 292.7,350.2 296,349 300.4,346 302.6,337.3 304.8,332.1 306.9,340.8 309.1,335.6 310.5,331 311.2,328 312.3,314.4 313.8,296 315,271 316.3,225 317.4,182 318.5,110 319.1,45 319.5,10.2 321.3,10.2 321.5,45 321.6,100 321.9,182 322.6,271 323.3,320 324.4,345 326,348 332,349 336,348.5 340,343.8 343,337 345.1,325.3 346.8,322 349.3,306.8 351,290 351.8,250 352.3,228.8 353.3,273 354.2,262 355.8,236 357.4,180 358.4,116 359.1,80 359.6,68.2 360.1,90 360.4,116 360.8,180 361.5,280 362.5,330 363.6,346 364.6,348 367.2,349.1 370.7,348.3 374.2,346.3 377.3,342.4 379,343.7 380.8,341.5 382.5,338 383.6,333 384.7,325 385.8,330 387.4,335.4 390.2,323.3 392,300 393.4,284.6 394.5,306 395.8,328 397.5,322 400.5,300 402,270 402.6,261.7 403.5,300 404.6,330 405.8,344 407,348 408.5,347.8 411.2,340.5 414.2,329.3 415.9,320.7 417.2,312 419.4,290 421.5,262 423,228 423.7,213.5 424.5,245 425.5,295 426.8,330 428.75,334.2 430,339 431.7,344.2 433.5,343 435.2,340.8 436.8,337 437.8,333 438.6,327 439.1,322.6 439.8,327 440.4,333 441.2,340 442.1,345.1 443,346 445,344 447.3,339.9 448.8,335 449.9,329.5 450.8,326 451.8,337 452.9,348.5 455,349.8 460,349.8 464,349 466.3,347.7 468,349.5 470,349.5 473.8,347.5 476.5,344 477.6,340.4 479.4,344.4 482.5,339 484.8,333.6 486.2,336.3 488,328 491,318 492.2,312.5 493.5,330 494.9,350.3 496.5,350.4 499,349.8 502,348 504.4,346.4 506,349.6 508,351.8 515,352 518,350.8 521,352 528,351.5 531.6,350.4 534,351.8 535.5,352.5"/><polyline fill="none" stroke="#00ff00" stroke-width="1.4" stroke-linejoin="round" points="62.5,352.8 70,352.5 80,352.4 86,352.2 89.5,349.9 92,352.2 100,352.3 104,351.3 108,349.8 111.3,347.8 113,350.8 116,352.2 124,351.5 127.5,349.5 129.5,345 130.5,342.6 132,348 134.5,351.2 140,351.3 144,349.5 147,347.5 149.5,345.5 150.7,343.3 152.5,348.5 154.5,351.2 162,351.3 166,349.5 169,349.6 171,348.3 172.6,346.9 174.5,350.5 176.5,351.5 186,351.2 188.7,350.5 192,351.5 196.4,350 199,351.5 208,351.8 212.7,350 215.5,347.5 217.3,344.5 219,348.5 221,349.5 224,350.5 226,351.5 236.7,351.3 238.5,350 239.5,348 241.2,335 242.8,320 243.9,314 244.7,318 245.3,323 245.9,321.5 246.6,328 247.5,340 248.5,348 250,351 261.8,351.4 262.4,350.5 263.8,341.4 266,335.5 268.9,327 271.5,313.5 274.2,303 275.1,290 275.9,275 276.7,259 277.4,268 278.1,279 278.8,275 279.4,255 280.2,200 281.1,157.5 281.8,195 282.4,260 282.8,300 283.5,337 284.2,344 285.6,348.2 288,349.8 290.4,350.4 293.5,351.1 297,350 300.4,347.7 302.5,343 303.9,339.9 304.8,339.5 305.8,344 306.9,347.7 309.1,345.1 311.7,342.1 312.8,335 313.8,328.7 314.7,318 316,300 317.2,271 318.2,225 319,182 319.8,100 320.2,40 320.4,10.2 321.6,10.2 321.7,40 321.8,100 322,182 322.4,230 322.7,271 323.3,320 324.3,346 326,350 332,350.8 336,350.5 340,347 343,341 345,337.9 346.5,336 348.5,328.7 350,306.8 351.5,285 352.6,274.4 353.8,295 354.8,311.8 355.8,295 357.2,240 358.5,190 359.7,159.7 360.4,200 361,260 361.5,300 362.3,335 363.6,349.5 367.2,351.3 372.9,350.4 376.4,348.5 377.7,346.3 379,348.9 381.2,346.7 383.4,340.6 384.7,335.4 386.2,342 387.4,345.4 390,338 392,318 393.2,306 394.5,325 396.2,342.7 398,338 400.5,320 402,298 402.6,290.9 403.5,315 405.3,345.5 406.5,349.8 407.6,350.6 409.5,350.2 411.2,348 414.7,338 416.8,325 418.5,316.3 419.4,311 421.6,290 423,245 423.7,230.8 424.9,300 426.8,341 427.8,346.7 430.2,348.8 432.2,348.5 435.2,346 437.8,339.9 439.1,331 440.4,341.6 441.5,346 443,348.5 445,347.5 447.3,345.1 449,340 450.3,335.6 450.8,334.7 452,343 453.4,350.3 456,351 462,351 465.5,349.4 467.5,351 473.8,350 476.5,348 477.6,345.8 480.1,349.1 482.5,345 485.5,340.4 486.3,341.5 488,334 491,322 492.2,318.5 493.5,332 495.1,350.5 497,352 501,351 504.4,348.8 506.5,351 508,352.4 518,352 521,352.5 531.6,351.5 535.5,352.8"/></g>
</svg></body></html>
